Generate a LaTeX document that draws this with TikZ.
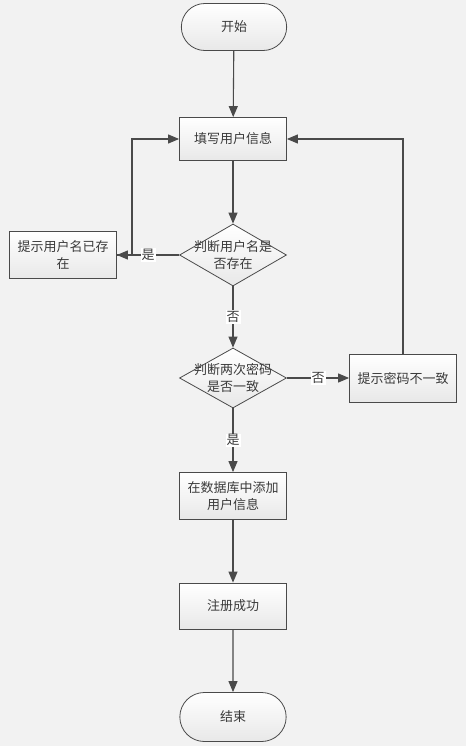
\documentclass[tikz,border=0pt]{standalone}
\usepackage{fontspec}
\setmainfont{Noto Sans CJK SC}
\usetikzlibrary{shapes.geometric,shapes.misc,arrows.meta}

\definecolor{bgcolor}{HTML}{F2F2F2}
\definecolor{linecolor}{HTML}{4A4A4A}
\definecolor{textcolor}{HTML}{3A3A3A}

\tikzset{
	chart/.style={draw=linecolor, line width=0.8pt, top color=white, bottom color=black!9,
		text=textcolor, align=center, font=\fontsize{13}{17}\selectfont},
	procbox/.style={chart, rectangle, minimum width=107pt, minimum height=46pt, inner sep=2pt},
	terminal/.style={chart, rounded rectangle, minimum width=112pt, minimum height=47pt},
	decision/.style={chart, diamond, minimum width=107pt, minimum height=62pt, inner sep=0pt},
	flow/.style={draw=linecolor, line width=1.1pt, -{Triangle[length=11pt,width=9pt]}},
	yesno/.style={fill=white, inner sep=1pt, text=textcolor, font=\fontsize{13}{14}\selectfont}
}

\begin{document}
\begin{tikzpicture}[x=1pt, y=-1pt]
		
		%canvas
		\fill[bgcolor] (0,0) rectangle (466,746);
		\useasboundingbox (0,0) rectangle (466,746);
		
		%Flow nodes
		\node (start) at (234,27) [terminal]{开始};
		
		\node (fill) at (233,139) [procbox, minimum height=43pt]{填写用户信息};
		
		\node (chkname) at (233,255) [decision, label={[text=textcolor, align=center, 
		font=\fontsize{13}{17}\selectfont]center:判断用户名是\\否存在}]{};
		
		\node (exists) at (63,255) [procbox, minimum height=47pt]{提示用户名已存\\在};
		
		\node (chkpwd) at (233,378) [decision, minimum height=60pt, label={[text=textcolor, 
		align=center, font=\fontsize{13}{17}\selectfont]center:判断两次密码\\是否一致}]{};
		
		\node (pwdwrong) at (403,378) [procbox, minimum height=48pt]{提示密码不一致};
		
		\node (adduser) at (233,496) [procbox, minimum height=47pt]{在数据库中添加\\用户信息};
		
		\node (success) at (233,606) [procbox]{注册成功};
		
		\node (end) at (233,717) [terminal, minimum width=113pt, minimum height=49pt]{结束};
		
		%Links
		\coordinate (loopL) at (132,255);
		
		\draw[flow] (start) -- (fill);
		\draw[flow] (fill) -- (chkname);
		
		\draw[flow] (chkname) -- node[yesno]{是} (exists);
		\draw[flow] (exists.east) -- (loopL) |- (fill.west);
		
		\draw[flow] (chkname) -- node[yesno]{否} (chkpwd);
		\draw[flow] (chkpwd) -- node[yesno]{否} (pwdwrong);
		\draw[flow] (pwdwrong.north) |- (fill.east);
		
		\draw[flow] (chkpwd) -- node[yesno]{是} (adduser);
		\draw[flow] (adduser) -- (success);
		\draw[flow] (success) -- (end);
		
\end{tikzpicture}
\end{document}
